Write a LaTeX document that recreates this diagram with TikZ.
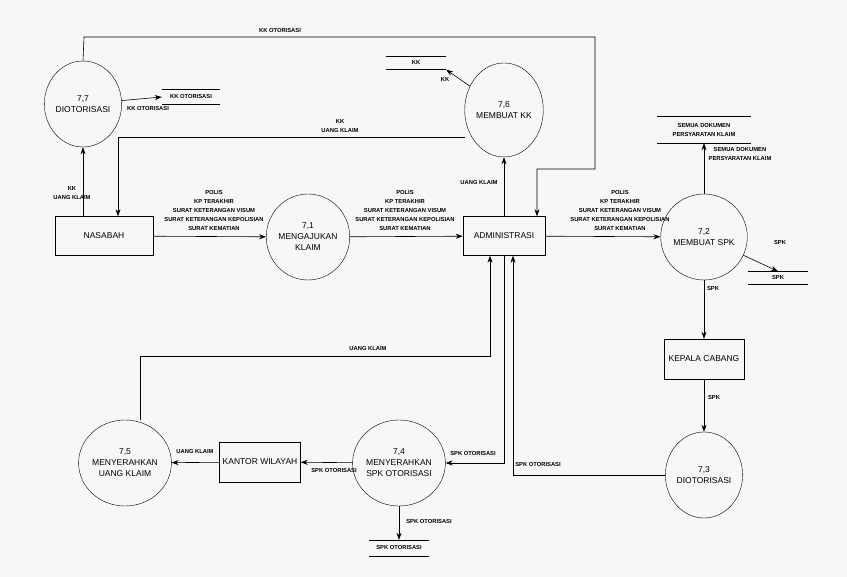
\documentclass[tikz,border=0pt]{standalone}
\usepackage{fontspec}
\setmainfont{Liberation Sans}
\usetikzlibrary{shapes.geometric,arrows.meta}
\begin{document}
\begin{tikzpicture}[x=1pt,y=-1pt,
  proc/.style={draw,ellipse,minimum width=74pt,minimum height=86pt,inner sep=0pt,align=center,font=\fontsize{8.5}{11}\selectfont},
  ent/.style={draw,rectangle,inner sep=0pt,align=center,font=\fontsize{8.5}{11}\selectfont},
  lab/.style={align=center,inner sep=0pt,font=\bfseries\fontsize{5.8}{9}\selectfont},
  flow/.style={-{Stealth[length=7pt,width=5pt]},line width=0.6pt},
  line/.style={line width=0.6pt}]
\useasboundingbox[fill=white!97!black] (0,0) rectangle (847,577);
% processes
\node[proc] (p77) at (83,104) {7,7\\DIOTORISASI};
\node[proc,minimum height=94pt] (p76) at (504,110) {7,6\\MEMBUAT KK};
\node[proc] (p71) at (308,237) {7,1\\MENGAJUKAN\\KLAIM};
\node[proc] (p72) at (704,237) {7,2\\MEMBUAT SPK};
\node[proc] (p73) at (704,475) {7,3\\DIOTORISASI};
\node[proc] (p74) at (399,463) {7,4\\MENYERAHKAN\\SPK OTORISASI};
\node[proc] (p75) at (125,463) {7,5\\MENYERAHKAN\\UANG KLAIM};
% entities
\node[ent,minimum width=98pt,minimum height=39pt] (nas) at (104,236) {NASABAH};
\node[ent,minimum width=82pt,minimum height=39pt] (adm) at (504,236) {ADMINISTRASI};
\node[ent,minimum width=80pt,minimum height=40pt] (kc) at (704,359) {KEPALA CABANG};
\node[ent,minimum width=81pt,minimum height=40pt] (kw) at (260,462) {KANTOR WILAYAH};
% stores
\foreach \n/\x/\y/\w/\h/\t in {skk/416/63/60/13/KK, skko/191/97/58/14/KK OTORISASI, ssd/704/130/93/26/{SEMUA DOKUMEN\\PERSYARATAN KLAIM}, sspk/778/278/60/13/SPK, sspko/399/548/59/16/SPK OTORISASI}{
  \node[lab,minimum width=\w pt,minimum height=\h pt] (\n) at (\x,\y) {\t};
  \draw[line] (\n.north west) -- (\n.north east) (\n.south west) -- (\n.south east);
}
% flows
\draw[flow] (nas) -- (p71);
\draw[flow] (p71) -- (adm);
\draw[flow] (adm) -- (p72);
\draw[flow] (adm.north) -- (p76.south);
\draw[flow] (p76) -- (skk.south east);
\draw[flow] (p77) -- (skko.west);
\draw[flow] (nas.north -| p77) -- (p77);
\draw[flow] (p76.west |- 0,137) -- (118,137) -- (nas.north -| 118,0);
\draw[flow] (p77.north) -- (84,37) -- (595,37) -- (595,169) -- (537,169) -- (adm.north -| 537,0);
\draw[flow] (p72) -- (ssd);
\draw[flow] (p72) -- (sspk.north);
\draw[flow] (p72) -- (kc);
\draw[flow] (kc) -- (p73);
\draw[flow] (p73.west |- 0,475) -- (513,475) -- (adm.south -| 513,0);
\draw[flow] (504,256) -- (504,463) -- (p74.east);
\draw[flow] (p75.north -| 140,0) -- (140,356) -- (490,356) -- (adm.south -| 490,0);
\draw[flow] (p74) -- (kw);
\draw[flow] (kw) -- (p75);
\draw[flow] (p74) -- (sspko.north);
% labels
\node[lab] at (280,31) {KK OTORISASI};
\node[lab] at (148,109) {KK OTORISASI};
\node[lab] at (445,80) {KK};
\node[lab] at (340,126) {KK\\UANG KLAIM};
\node[lab] at (72,193) {KK\\UANG KLAIM};
\node[lab] at (479,183) {UANG KLAIM};
\foreach \x in {214,405,620}{
  \node[lab] at (\x,211) {POLIS\\KP TERAKHIR\\SURAT KETERANGAN VISUM\\SURAT KETERANGAN KEPOLISIAN\\SURAT KEMATIAN};
}
\node[lab] at (740,154) {SEMUA DOKUMEN\\PERSYARATAN KLAIM};
\node[lab] at (780,243) {SPK};
\node[lab] at (713,289) {SPK};
\node[lab] at (714,398) {SPK};
\node[lab] at (368,349) {UANG KLAIM};
\node[lab] at (473,454) {SPK OTORISASI};
\node[lab] at (538,465) {SPK OTORISASI};
\node[lab] at (334,471) {SPK OTORISASI};
\node[lab] at (195,452) {UANG KLAIM};
\node[lab] at (429,522) {SPK OTORISASI};
\end{tikzpicture}
\end{document}
